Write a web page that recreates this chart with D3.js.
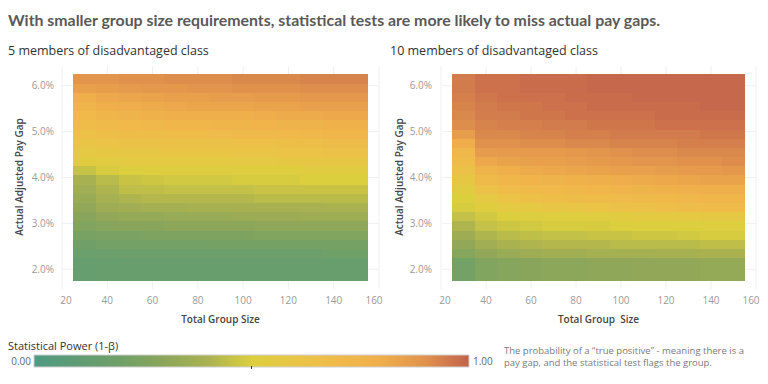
<!DOCTYPE html>
<html><head><meta charset="utf-8">
<script src="https://cdn.jsdelivr.net/npm/d3@7"></script>
<style>
html,body{margin:0;padding:0;background:#fff;}
svg{display:block;}
</style></head>
<body>
<svg id="chart" width="768" height="384"></svg>
<script>
const titleText = "With smaller group size requirements, statistical tests are more likely to miss actual pay gaps.";
const panelTitles = ["5 members of disadvantaged class", "10 members of disadvantaged class"];
const xTitles = ["Total Group Size", "Total Group  Size"];
const yTitle = "Actual Adjusted Pay Gap";
const legendTitle = "Statistical Power (1-\u03B2)";
const legendLabels = ["0.00", "1.00"];
const noteLines = ["The probability of a \u201Ctrue positive\u201D - meaning there is a", "pay gap, and the statistical test flags the group."];

const groupSizes = [30, 40, 50, 60, 70, 80, 90, 100, 110, 120, 130, 140, 150];
const payGaps = [2.0, 2.2, 2.4, 2.6, 2.8, 3.0, 3.2, 3.4, 3.6, 3.8, 4.0, 4.2, 4.4, 4.6, 4.8, 5.0, 5.2, 5.4, 5.6, 5.8, 6.0];
const xTicks = [20, 40, 60, 80, 100, 120, 140, 160];
const yTicks = [2, 3, 4, 5, 6];

// statistical power, rows = pay gap (2.0% .. 6.0%), columns = group size (30 .. 150)
const power5 = [
  [0.14,0.15,0.15,0.15,0.15,0.15,0.15,0.15,0.15,0.15,0.15,0.15,0.15],
  [0.17,0.17,0.18,0.18,0.18,0.18,0.18,0.18,0.18,0.18,0.18,0.19,0.19],
  [0.20,0.21,0.21,0.21,0.21,0.21,0.22,0.22,0.22,0.22,0.22,0.22,0.22],
  [0.23,0.24,0.24,0.25,0.25,0.25,0.25,0.25,0.26,0.26,0.26,0.26,0.26],
  [0.26,0.28,0.29,0.29,0.30,0.30,0.30,0.30,0.31,0.31,0.31,0.31,0.31],
  [0.29,0.32,0.33,0.33,0.34,0.34,0.34,0.35,0.35,0.35,0.36,0.36,0.36],
  [0.32,0.36,0.37,0.38,0.38,0.39,0.39,0.39,0.39,0.39,0.39,0.40,0.40],
  [0.34,0.39,0.41,0.42,0.42,0.42,0.42,0.42,0.43,0.43,0.43,0.43,0.43],
  [0.37,0.41,0.44,0.44,0.45,0.45,0.45,0.45,0.46,0.46,0.46,0.46,0.46],
  [0.39,0.43,0.46,0.47,0.48,0.48,0.48,0.49,0.49,0.49,0.50,0.50,0.50],
  [0.455,0.49,0.50,0.51,0.51,0.51,0.51,0.52,0.52,0.52,0.53,0.53,0.53],
  [0.53,0.54,0.55,0.55,0.56,0.56,0.56,0.57,0.57,0.58,0.58,0.59,0.59],
  [0.57,0.58,0.59,0.59,0.60,0.60,0.60,0.61,0.61,0.62,0.62,0.63,0.63],
  [0.61,0.62,0.63,0.63,0.64,0.64,0.64,0.65,0.65,0.66,0.66,0.67,0.67],
  [0.65,0.66,0.67,0.67,0.68,0.68,0.69,0.70,0.70,0.71,0.72,0.73,0.73],
  [0.68,0.70,0.71,0.72,0.73,0.73,0.74,0.74,0.75,0.76,0.76,0.77,0.77],
  [0.71,0.74,0.76,0.77,0.78,0.78,0.79,0.79,0.80,0.81,0.81,0.82,0.82],
  [0.74,0.78,0.80,0.81,0.82,0.83,0.83,0.83,0.84,0.84,0.85,0.85,0.85],
  [0.79,0.82,0.83,0.84,0.85,0.85,0.86,0.86,0.87,0.87,0.88,0.88,0.88],
  [0.85,0.86,0.87,0.88,0.88,0.89,0.89,0.90,0.90,0.90,0.91,0.91,0.91],
  [0.89,0.89,0.90,0.90,0.91,0.91,0.91,0.92,0.92,0.92,0.93,0.93,0.93]
];
const power10 = [
  [0.21,0.26,0.28,0.29,0.30,0.30,0.31,0.31,0.32,0.32,0.32,0.33,0.33],
  [0.28,0.32,0.34,0.36,0.37,0.37,0.38,0.38,0.38,0.39,0.39,0.40,0.40],
  [0.32,0.37,0.40,0.41,0.42,0.42,0.42,0.43,0.43,0.43,0.43,0.44,0.44],
  [0.36,0.41,0.43,0.44,0.45,0.45,0.46,0.46,0.47,0.47,0.48,0.49,0.49],
  [0.41,0.45,0.47,0.48,0.49,0.49,0.49,0.50,0.50,0.50,0.50,0.51,0.51],
  [0.45,0.48,0.50,0.51,0.51,0.52,0.53,0.54,0.55,0.56,0.57,0.58,0.58],
  [0.49,0.52,0.55,0.57,0.59,0.60,0.62,0.63,0.64,0.66,0.67,0.68,0.68],
  [0.50,0.57,0.62,0.65,0.66,0.67,0.68,0.69,0.70,0.71,0.72,0.73,0.73],
  [0.53,0.64,0.68,0.70,0.71,0.72,0.73,0.75,0.76,0.77,0.78,0.79,0.79],
  [0.58,0.70,0.73,0.75,0.76,0.77,0.78,0.80,0.81,0.82,0.83,0.84,0.84],
  [0.64,0.76,0.79,0.81,0.82,0.83,0.84,0.85,0.85,0.86,0.87,0.87,0.88],
  [0.68,0.82,0.84,0.85,0.85,0.86,0.87,0.88,0.89,0.89,0.90,0.90,0.91],
  [0.72,0.865,0.87,0.87,0.87,0.88,0.89,0.90,0.91,0.91,0.92,0.92,0.92],
  [0.80,0.90,0.90,0.91,0.91,0.92,0.92,0.93,0.93,0.93,0.94,0.94,0.94],
  [0.86,0.92,0.92,0.93,0.93,0.94,0.94,0.95,0.95,0.95,0.95,0.96,0.96],
  [0.91,0.93,0.94,0.94,0.95,0.95,0.96,0.96,0.96,0.97,0.97,0.97,0.97],
  [0.92,0.945,0.95,0.96,0.96,0.97,0.97,0.97,0.97,0.98,0.98,0.98,0.98],
  [0.93,0.95,0.96,0.96,0.97,0.97,0.98,0.98,0.98,0.98,0.98,0.99,0.99],
  [0.94,0.96,0.97,0.97,0.97,0.98,0.98,0.98,0.99,0.99,0.99,0.99,0.99],
  [0.95,0.97,0.97,0.98,0.98,0.98,0.99,0.99,0.99,0.99,0.99,0.99,0.99],
  [0.95,0.97,0.97,0.98,0.98,0.98,0.99,0.99,0.99,0.99,0.99,0.99,0.99]
];

const colorStops = [0, 0.10, 0.20, 0.30, 0.40, 0.50, 0.60, 0.70, 0.80, 0.90, 1.00];
const colorRange = ["#4e9a83","#5f9c74","#70a067","#8ca65a","#aab250","#dccf3e","#e9c546","#f0ba4a","#efae4b","#e0924c","#c3634b"];
const color = d3.scaleLinear().domain(colorStops).range(colorRange).interpolate(d3.interpolateRgb).clamp(true);

const svg = d3.select("#chart");
const FONT = "'Open Sans', 'Noto Sans', sans-serif";

// title
svg.append("text").attr("x", 8).attr("y", 26)
  .attr("font-family", "Lato, sans-serif").attr("font-weight", 700).attr("font-size", 15)
  .attr("fill", "#595959").attr("textLength", 652).attr("lengthAdjust", "spacingAndGlyphs")
  .text(titleText);

const panels = [
  {data: power5, title: panelTitles[0], tx: 8, xr: [62, 379], yLabX: 54, yTitleX: 23, xTitle: xTitles[0]},
  {data: power10, title: panelTitles[1], tx: 390, xr: [441, 756], yLabX: 432, yTitleX: 403, xTitle: xTitles[1]}
];

const yRange = [269.3, 85.7];
const halfW = 5;      // half width of a mark, in group-size units
const halfH = 0.245;  // half height of a mark, in pay-gap percent units

panels.forEach(P => {
  const g = svg.append("g");
  const x = d3.scaleLinear().domain([20, 160]).range(P.xr);
  const y = d3.scaleLinear().domain([2, 6]).range(yRange);
  const top = 66, bottom = 289;

  g.append("text").attr("x", P.tx).attr("y", 55)
    .attr("font-family", FONT).attr("font-size", 12.5).attr("fill", "#333")
    .text(P.title);

  // gridlines
  g.selectAll(".vg").data(xTicks).join("line")
    .attr("x1", d => x(d)).attr("x2", d => x(d)).attr("y1", top).attr("y2", bottom)
    .attr("stroke", "#f0f0f0").attr("stroke-width", 1);
  g.selectAll(".hg").data(yTicks).join("line")
    .attr("x1", P.xr[0]).attr("x2", P.xr[1]).attr("y1", d => y(d)).attr("y2", d => y(d))
    .attr("stroke", "#f0f0f0").attr("stroke-width", 1);

  // cells: drawn from highest pay gap to lowest so that lower rows overlap higher rows
  const cells = [];
  for (let r = payGaps.length - 1; r >= 0; r--) {
    for (let c = 0; c < groupSizes.length; c++) {
      cells.push({p: payGaps[r], s: groupSizes[c], v: P.data[r][c]});
    }
  }
  g.append("g").selectAll("rect").data(cells).join("rect")
    .attr("x", d => x(d.s - halfW))
    .attr("width", d => x(d.s + halfW) - x(d.s - halfW) + 0.5)
    .attr("y", d => y(d.p + halfH))
    .attr("height", d => y(d.p - halfH) - y(d.p + halfH))
    .attr("fill", d => color(d.v))
    .attr("shape-rendering", "crispEdges");

  // axes labels
  g.selectAll(".xt").data(xTicks).join("text")
    .attr("x", d => x(d) + (d === 20 ? 4 : d === 160 ? -5 : 0)).attr("y", 304)
    .attr("text-anchor", "middle").attr("font-family", FONT).attr("font-size", 10)
    .attr("fill", "#9a9a9a").text(d => d);
  g.selectAll(".yt").data(yTicks).join("text")
    .attr("x", P.yLabX).attr("y", d => y(d) + 3.5)
    .attr("text-anchor", "end").attr("font-family", FONT).attr("font-size", 10)
    .attr("fill", "#9a9a9a").text(d => d3.format(".1f")(d) + "%");

  g.append("text").attr("x", (P.xr[0] + P.xr[1]) / 2).attr("y", 323)
    .attr("text-anchor", "middle").attr("font-family", FONT).attr("font-size", 10)
    .attr("font-weight", 600).attr("fill", "#444").attr("xml:space", "preserve")
    .style("white-space", "pre").text(P.xTitle);
  g.append("text").attr("transform", `translate(${P.yTitleX},177) rotate(-90)`)
    .attr("text-anchor", "middle").attr("font-family", FONT).attr("font-size", 10)
    .attr("font-weight", 600).attr("fill", "#444").text(yTitle);
});

// legend
const lx = d3.scaleLinear().domain([0, 1]).range([34, 469]);
const defs = svg.append("defs");
const grad = defs.append("linearGradient").attr("id", "lg").attr("x1", "0%").attr("x2", "100%");
d3.range(0, 1.0001, 0.05).forEach(t => grad.append("stop").attr("offset", (t * 100) + "%").attr("stop-color", color(t)));

svg.append("text").attr("x", 8).attr("y", 350).attr("font-family", FONT).attr("font-size", 11)
  .attr("fill", "#333").text(legendTitle);
svg.append("rect").attr("x", lx(0)).attr("y", 355).attr("width", lx(1) - lx(0)).attr("height", 12)
  .attr("fill", "url(#lg)").attr("stroke", "#cfcfcf").attr("stroke-width", 1);
svg.append("line").attr("x1", lx(0.5)).attr("x2", lx(0.5)).attr("y1", 366).attr("y2", 369)
  .attr("stroke", "#333").attr("stroke-width", 1);
svg.append("text").attr("x", 31).attr("y", 365).attr("text-anchor", "end").attr("font-family", FONT)
  .attr("font-size", 10).attr("fill", "#666").text(legendLabels[0]);
svg.append("text").attr("x", 473).attr("y", 365).attr("font-family", FONT)
  .attr("font-size", 10).attr("fill", "#666").text(legendLabels[1]);

noteLines.forEach((t, i) => {
  svg.append("text").attr("x", 504).attr("y", 354 + i * 12).attr("font-family", FONT)
    .attr("font-size", 9.5).attr("fill", "#7a7a7a").text(t);
});
</script>
</body></html>
